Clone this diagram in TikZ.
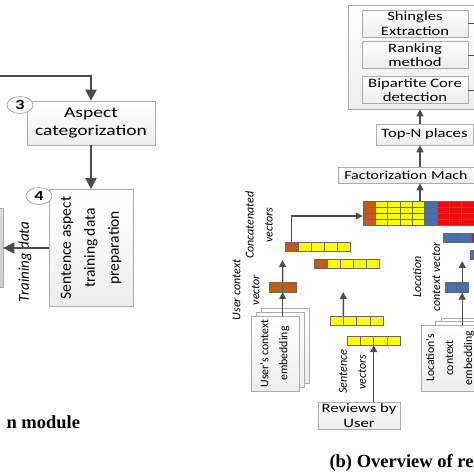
\documentclass[tikz,border=0pt]{standalone}
\usepackage{fontspec}
\setmainfont{Liberation Serif}
\newfontfamily\diagfont[FakeStretch=1.3]{Carlito}
\newfontfamily\diagrot{Carlito}
\usetikzlibrary{arrows.meta,shapes.geometric,positioning}
\definecolor{orng}{RGB}{197,90,17}
\definecolor{ylw}{RGB}{255,255,0}
\definecolor{blu}{RGB}{70,114,172}
\definecolor{redc}{RGB}{235,12,12}
\def\cw{13}

\begin{document}
\begin{tikzpicture}[x=1pt,y=1pt]
		\tikzstyle{box}=[draw=gray!65,line width=0.7pt,top color=white,bottom color=gray!14,inner sep=0pt,align=center]
		\tikzstyle{lefttext}=[font=\diagfont\fontsize{15}{18}\selectfont]
		\tikzstyle{righttext}=[font=\diagfont\fontsize{12.8}{14.5}\selectfont]
		\tikzstyle{rottext}=[rotate=90,font=\diagrot\fontsize{11.8}{19}\selectfont]
		\tikzstyle{inbox}=[box,righttext,minimum width=106pt,minimum height=27pt]
		\tikzstyle{num}=[ellipse,draw=gray!65,line width=0.8pt,fill=white,minimum width=26pt,minimum height=17pt,inner sep=0pt,font=\diagfont\bfseries\fontsize{14}{14}\selectfont]
		\tikzstyle{cell}=[draw=black!60,line width=0.4pt,minimum width=\cw pt,minimum height=9pt,inner sep=0pt]
		\tikzstyle{lbl}=[rotate=90,align=center,font=\diagrot\itshape\fontsize{12}{19}\selectfont]
		\tikzstyle{flow}=[-{Triangle[length=7pt,width=7pt]},draw=black!70,line width=1.4pt]
		\tikzstyle{bigflow}=[-{Triangle[length=11pt,width=11pt]},draw=black!70,line width=1.9pt]
		\tikzstyle{capt}=[font=\bfseries\fontsize{18.5}{20}\selectfont]

		\useasboundingbox (0,0) rectangle (474,-474);
		\clip (0,0) rectangle (474,-474);

		\coordinate (in) at (0,-76);
		\node[box,lefttext,minimum width=128pt,minimum height=44pt] (asp) at (91,-123) {Aspect\\categorization};
		\node[num] (n3) at (20,-105) {3};
		\node[box,rotate=90,minimum width=117pt,minimum height=84pt,font=\diagrot\fontsize{15.5}{24}\selectfont] (prep) at (91,-248) {Sentence aspect\\training data\\preparation};
		\node[num] (n4) at (39,-196) {4};
		\node[box,top color=gray!30,bottom color=gray!40,minimum width=40pt,minimum height=79pt] (trbox) at (-17,-248) {};
		\node[lbl,font=\diagrot\itshape\fontsize{15}{18}\selectfont] (trl) at (25,-262) {Training data};
		\draw[bigflow] (in) -| (asp);
		\draw[bigflow] (asp) -- (prep.east);
		\draw[bigflow] (prep.north) -- (trbox);
		\node[capt,anchor=west] (capa) at (3,-422) {n module};

		\node[box,minimum width=150pt,minimum height=104pt] (grp) at (423,-57) {};
		\node[inbox] (sh) at (415,-23.5) {Shingles\\Extraction};
		\node[inbox,below=4pt of sh] (rk) {Ranking\\method};
		\node[inbox,below=7pt of rk] (bc) {Bipartite Core\\detection};
		\foreach \n in {sh,rk,bc}
			\draw[black!70,line width=0.8pt] (\n.east) -- +(12,0);
		\node[box,righttext,minimum width=97pt,minimum height=21pt] (topn) at (424.5,-134.5) {Top-N places};
		\node[box,font=\diagfont\fontsize{12.2}{14}\selectfont,anchor=west,minimum height=16pt,text width=140pt,align=left,inner xsep=6pt] (fm) at (338,-175) {Factorization Mach};

		\foreach \c [count=\i] in {orng,ylw,ylw,ylw,ylw,blu,redc,redc,redc,redc}
			\foreach \row in {1,...,4}
				\node[cell,fill=\c,minimum width=12.3pt,minimum height=6pt] (cb-\row-\i) at ({363+12.3*(\i-0.5)},{-201-6*(\row-0.5)}) {};

		\coordinate (col) at (420,0);
		\draw[flow] (col |- cb-1-1.north) -- (col |- fm.south);
		\draw[flow] (col |- fm.north) -- (col |- topn.south);
		\draw[flow] (col |- topn.north) -- (col |- grp.south);

		\foreach \c [count=\i] in {orng,ylw,ylw,ylw,ylw} {
			\node[cell,fill=\c] (cv1-\i) at ({285+\cw*(\i-0.5)},-246.5) {};
			\node[cell,fill=\c] (cv2-\i) at ({314+\cw*(\i-0.5)},-263.5) {};
		}
		\foreach \i in {1,2}
			\node[cell,fill=orng,minimum width=13.5pt,minimum height=10pt] (uv-\i) at ({269+13.5*(\i-0.5)},-287) {};
		\foreach \i in {1,...,4} {
			\node[cell,fill=ylw,minimum width=13.25pt] (sv1-\i) at ({330+13.25*(\i-0.5)},-320.5) {};
			\node[cell,fill=ylw,minimum width=13.25pt] (sv2-\i) at ({347+13.25*(\i-0.5)},-340.5) {};
		}
		\foreach \c [count=\i] in {blu,blu,redc,redc}
			\node[cell,fill=\c,minimum width=14pt] (lr1-\i) at ({443+14*(\i-0.5)},-237.5) {};
		\foreach \i in {1,2}
			\node[cell,fill=blu,minimum width=14pt] (lr2-\i) at ({470+14*(\i-0.5)},-254.5) {};
		\foreach \i in {1,2}
			\node[cell,fill=blu,minimum width=11.5pt,minimum height=10pt] (lv-\i) at ({445+11.5*(\i-0.5)},-287.5) {};

		\foreach \k in {2,1}
			\node[box,minimum width=48pt,minimum height=75pt] (ue-\k) at ({275+5*\k},{-353.5+4*\k}) {};
		\node[box,rottext,minimum width=75pt,minimum height=48pt] (ue) at (275,-353.5) {User's context\\embedding};
		\foreach \k/\dx in {2/20,1/14}
			\node[box,minimum width=58pt,minimum height=66pt] (le-\k) at ({450+\dx},{-358+3.5*\k}) {};
		\node[box,rottext,minimum width=66pt,minimum height=58pt] (le) at (450,-358) {Location's\\context\\embedding};
		\node[box,righttext,minimum width=82pt,minimum height=27pt] (rev) at (359,-415.5) {Reviews by\\User};

		\node[lbl] (cvl) at (259,-225) {Concatenated\\vectors};
		\node[lbl] (uvl) at (246,-290) {User context\\vector};
		\node[lbl] (svl) at (352.5,-372) {Sentence\\vectors};
		\node[lbl] (lvl) at (426.5,-277) {Location\\context vector};

		\coordinate (uvtip) at (282.5,-260);
		\coordinate (svtip) at (343.25,-292);
		\coordinate (lvtip) at (462.25,-261);
		\draw[flow] (uv-1.south east |- ue.east) -- (uv-1.south east);
		\draw[flow] (uv-1.north east) -- (uvtip);
		\draw[flow] (cv1-1.north) |- (cb-3-1.west);
		\draw[flow] (sv1-1.north east) -- (svtip);
		\draw[flow] (rev.north -| sv2-2.south east) -- (sv2-2.south east);
		\draw[flow] (lv-2.south |- le.east) -- (lv-2.south);
		\draw[flow] (lv-2.north) -- (lvtip);

		\node[capt,anchor=west] (capb) at (326,-463) {(b) Overview of re};
\end{tikzpicture}
\end{document}
